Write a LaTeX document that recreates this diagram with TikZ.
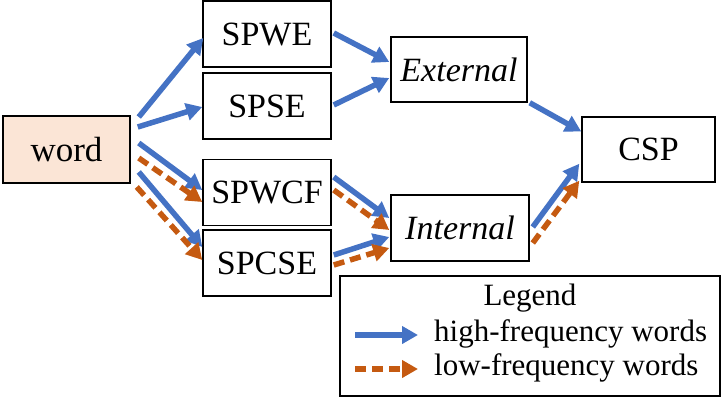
\documentclass[tikz,border=0pt]{standalone}
\usepackage{fontspec}
\setmainfont{Liberation Serif}
\usetikzlibrary{arrows.meta,calc}

\definecolor{hfblue}{HTML}{4472C4}
\definecolor{lforange}{HTML}{C55A11}
\definecolor{wordfill}{HTML}{FBE5D6}

\begin{document}
\begin{tikzpicture}[x=1pt,y=-1pt,
        box/.style={draw, line width=1.5pt, inner sep=0pt, minimum width=128pt, minimum height=66pt, font=\fontsize{34}{40}\selectfont},
        hf/.style={hfblue, line width=5.5pt, -{Triangle[length=16pt,width=17pt]}},
        lf/.style={lforange, line width=5.5pt, dash pattern=on 11pt off 6pt, -{Triangle[length=16pt,width=17pt]}}]
        \useasboundingbox (0,0) rectangle (725,402);

        \node[box, fill=wordfill, minimum width=127pt, minimum height=67pt, font=\fontsize{35}{40}\selectfont] (word) at (66.5,149.5) {word};
        \node[box] (spwe)  at (267,34)    {SPWE};
        \node[box] (spse)  at (267,106)   {SPSE};
        \node[box] (spwcf) at (267,192.5) {SPWCF};
        \node[box] (spcse) at (267,263)   {SPCSE};
        \node[box, minimum width=136pt, minimum height=65pt] (ext) at (459,69.5) {\textit{External}};
        \node[box, minimum width=138pt] (int) at (460,228) {\textit{Internal}};
        \node[box, minimum width=133pt, minimum height=65pt] (csp) at (648.5,149.5) {CSP};

        % word -> features
        \draw[hf] ($(word.east)+(8,-32.5)$) -- ($(spwe.west)+(1,4)$);
        \draw[hf] ($(word.east)+(7,-22.5)$) -- ($(spse.west)+(0,1)$);
        \draw[hf] ($(word.east)+(8,-6.5)$)  -- ($(spwcf.west)+(0,-2.5)$);
        \draw[lf] ($(word.east)+(8,8.5)$)   -- ($(spwcf.west)+(0,9.5)$);
        \draw[hf] ($(word.east)+(8,22.5)$)  -- ($(spcse.west)+(0,-16)$);
        \draw[lf] ($(word.east)+(6,37.5)$)  -- ($(spcse.west)+(0,-3)$);

        % features -> external / internal
        \draw[hf] ($(spwe.east)+(2,-1)$)   -- ($(ext.west)+(-1,-7.5)$);
        \draw[hf] ($(spse.east)+(2,-1)$)   -- ($(ext.west)+(-1,8.5)$);
        \draw[hf] ($(spwcf.east)+(2,-15.5)$) -- ($(int.west)+(-1,-10)$);
        \draw[lf] ($(spwcf.east)+(2,-2.5)$)  -- ($(int.west)+(-1,2)$);
        \draw[hf] ($(spcse.east)+(2,-8)$)  -- ($(int.west)+(-1,9)$);
        \draw[lf] ($(spcse.east)+(2,2)$)   -- ($(int.west)+(-1,20)$);

        % -> CSP
        \draw[hf] ($(ext.south east)+(2,0)$) -- ($(csp.west)+(0,-18)$);
        \draw[hf] ($(int.east)+(3,-1)$) -- ($(csp.south west)+(-2,-19)$);
        \draw[lf] ($(int.east)+(3,15)$) -- ($(csp.south west)+(-2,-2)$);

        % legend
        \node[draw, line width=1.5pt, minimum width=380pt, minimum height=120pt] (legend) at (530,336) {};
        \node[font=\fontsize{31}{36}\selectfont] (legtitle) at (530,298) {Legend};
        \coordinate (hfa) at (355,335);
        \coordinate (hfb) at (418,335);
        \coordinate (lfa) at (355,369);
        \coordinate (lfb) at (418,369);
        \draw[hf] (hfa) -- (hfb);
        \draw[lf] (lfa) -- (lfb);
        \node[anchor=west, inner sep=0pt, font=\fontsize{31}{36}\selectfont] (hftext) at (434,334) {high-frequency words};
        \node[anchor=west, inner sep=0pt, font=\fontsize{31}{36}\selectfont] (lftext) at (434,368) {low-frequency words};
\end{tikzpicture}
\end{document}
